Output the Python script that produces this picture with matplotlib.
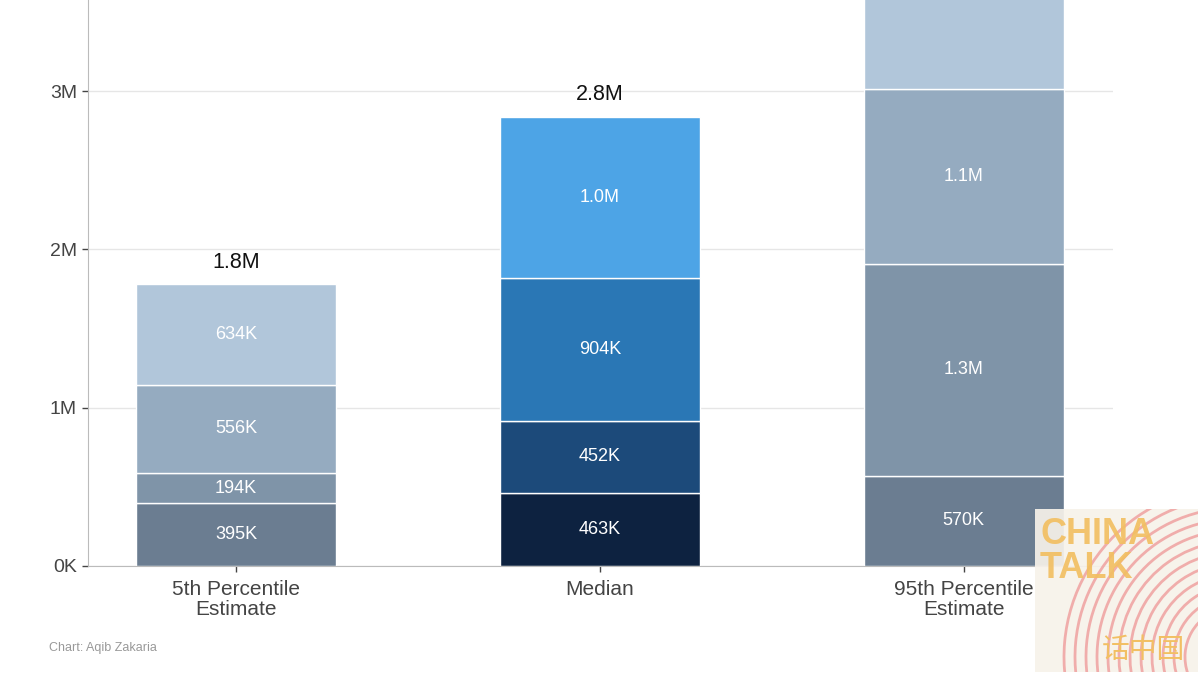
import matplotlib.pyplot as plt
import numpy as np
from matplotlib.patches import Rectangle, Arc

plt.rcParams['font.family'] = ['Liberation Sans', 'DejaVu Sans']

# categories and stacked segment values (bottom -> top)
categories = ['5th Percentile\nEstimate', 'Median', '95th Percentile\nEstimate']
seg1 = [395e3, 463e3, 570e3]
seg2 = [194e3, 452e3, 1.34e6]
seg3 = [556e3, 904e3, 1.10e6]
seg4 = [634e3, 1.02e6, 1.20e6]
seg_labels = [
    ['395K', '194K', '556K', '634K'],
    ['463K', '452K', '904K', '1.0M'],
    ['570K', '1.3M', '1.1M', ''],
]
total_labels = ['1.8M', '2.8M', '']

grey_cols = ['#6b7d91', '#7f94a8', '#95abc0', '#b1c6da']
blue_cols = ['#0d2240', '#1c4a7a', '#2a77b5', '#4da4e6']
bar_colors = [grey_cols, blue_cols, grey_cols]

fig = plt.figure(figsize=(12, 6.75), dpi=100)
ax = fig.add_axes([0.0733, 0.1615, 0.8542, 0.8385])

x = np.arange(len(categories))
segs = np.array([seg1, seg2, seg3, seg4])
bottoms = np.zeros(len(categories))
for k in range(segs.shape[0]):
    cols = [bar_colors[i][k] for i in range(len(categories))]
    ax.bar(x, segs[k], width=0.55, bottom=bottoms, color=cols,
           edgecolor='white', linewidth=1, zorder=2)
    for i in range(len(categories)):
        lab = seg_labels[i][k]
        if lab:
            ax.text(x[i], bottoms[i] + segs[k][i] / 2, lab, ha='center', va='center',
                    color='white', fontsize=13, zorder=3)
    bottoms = bottoms + segs[k]

ymax = 3.575e6
for i in range(len(categories)):
    if total_labels[i] and bottoms[i] < ymax:
        ax.text(x[i], bottoms[i] + 0.07e6, total_labels[i], ha='center', va='bottom',
                color='#111111', fontsize=15.5, zorder=3)

ax.set_xlim(-0.407, 2.41)
ax.set_ylim(0, ymax)
ax.set_yticks([0, 1e6, 2e6, 3e6])
ax.set_yticklabels(['0K', '1M', '2M', '3M'])
ax.set_xticks(x)
ax.set_xticklabels(categories, fontsize=15, color='#444444', linespacing=1.1)
ax.tick_params(axis='y', labelsize=14, labelcolor='#444444', color='#444444', length=4, width=1, pad=4)
ax.tick_params(axis='x', color='#444444', length=4, width=1, pad=6)

ax.grid(axis='y', color='#e6e6e6', linewidth=1, zorder=0)
ax.set_axisbelow(True)
for s in ['top', 'right']:
    ax.spines[s].set_visible(False)
ax.spines['left'].set_color('#bbbbbb')
ax.spines['bottom'].set_color('#bbbbbb')

fig.text(49 / 1200, 1 - 648 / 675, 'Chart: Aqib Zakaria', fontsize=9, color='#999999',
         ha='left', va='center')

# ChinaTalk logo watermark (drawn in its own pixel-scaled axes)
lax = fig.add_axes([1035 / 1200, 3 / 675, 163 / 1200, 163 / 675], zorder=10)
lax.set_xlim(0, 163)
lax.set_ylim(0, 163)
lax.axis('off')
box = Rectangle((0, 0), 163, 163, facecolor='#f7f2ea', alpha=0.92, edgecolor='none')
lax.add_patch(box)
for r in np.arange(50, 175, 11):
    a = Arc((200, 15), 2 * r, 2 * r, theta1=100, theta2=200,
            color='#ee9090', linewidth=2, alpha=0.7)
    lax.add_patch(a)
    a.set_clip_path(box)
lax.text(5, 138, 'CHINA', fontsize=26, fontweight='bold', color='#f2bf62',
         alpha=0.92, ha='left', va='center')
lax.text(5, 104, 'TALK', fontsize=26, fontweight='bold', color='#f2bf62',
         alpha=0.92, ha='left', va='center')
lax.text(108, 22, '话中国', fontsize=20, family=['Noto Sans CJK SC', 'DejaVu Sans'],
         color='#f2bf62', ha='center', va='center')

plt.savefig('out.png', dpi=100)
